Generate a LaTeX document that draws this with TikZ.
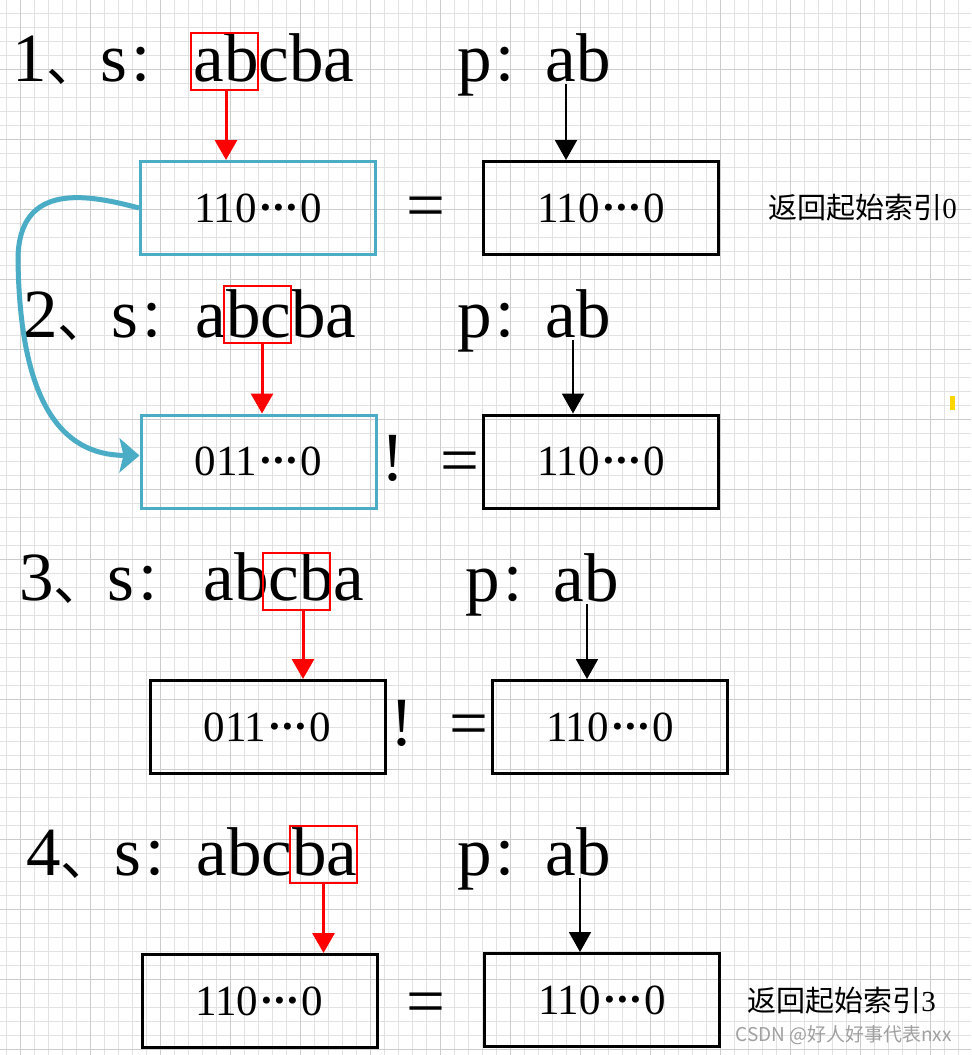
\documentclass[tikz,border=0pt]{standalone}
\usepackage{fontspec}
\setmainfont{Liberation Serif}
\newfontfamily\cjk{Noto Sans CJK SC}
\usepackage{tikz}
\usetikzlibrary{arrows.meta}
\usepackage{xcolor}
\definecolor{boxblue}{RGB}{75,172,198}
\definecolor{gridminor}{RGB}{226,226,226}
\definecolor{gridmajor}{RGB}{204,204,204}
\definecolor{marky}{RGB}{255,214,0}
\definecolor{wmgray}{RGB}{160,160,160}

\newcommand{\bigtxt}{\fontsize{34.5}{40}\selectfont}
\newcommand{\pu}[1]{{\cjk\fontsize{27}{30}\selectfont #1}}
\newcommand{\mdots}{\kern0.08em\raisebox{0.28em}{\bfseries .\kern0.05em.\kern0.05em.}\kern0.08em}

\tikzset{
  lbl/.style={inner sep=0pt, anchor=base west, font=\bigtxt},
  eqs/.style={inner sep=0pt, anchor=base, font=\bigtxt},
  hl/.style={draw=red, line width=1pt, minimum width=33.5pt, minimum height=28.5pt, inner sep=0pt},
  bitbox/.style={draw, line width=1.5pt, minimum width=117.5pt, minimum height=46.5pt, inner sep=0pt, font=\fontsize{21.5}{24}\selectfont},
  bluebox/.style={bitbox, draw=boxblue},
  redarr/.style={red, line width=1.5pt, -{Triangle[width=11pt,length=10pt]}},
  blkarr/.style={black, line width=1pt, -{Triangle[width=11pt,length=10pt]}},
  note/.style={inner sep=0pt, anchor=west, font=\fontsize{14.5}{16}\selectfont},
  wm/.style={inner sep=0pt, anchor=west, text=wmgray, font=\cjk\fontsize{9.5}{11}\selectfont},
}

\begin{document}
\begin{tikzpicture}[x=0.5pt, y=-0.5pt]
  \useasboundingbox (0,0) rectangle (971,1055);
  \fill[white] (0,0) rectangle (971,1055);
  % grid paper
  \foreach \gx in {6.3,20.3,...,971} \draw[gridminor, line width=0.5pt] (\gx,0) -- (\gx,1055);
  \foreach \gy in {13.3,27.3,...,1055} \draw[gridminor, line width=0.5pt] (0,\gy) -- (971,\gy);
  \foreach \gx in {20.3,90.3,...,971} \draw[gridmajor, line width=0.5pt] (\gx,0) -- (\gx,1055);
  \foreach \gy in {69.3,139.3,...,1055} \draw[gridmajor, line width=0.5pt] (0,\gy) -- (971,\gy);

  % step 1
  \node[lbl] (s1) at (12,81) {1\pu{、}s\pu{：}};
  \node[lbl] (w1) at (193,81) {abcba};
  \node[hl] (h1) at (224,61) {};
  \node[lbl] (p1) at (457,81) {p\pu{：}ab};
  \coordinate (t1) at (566,84);
  \node[bluebox] (b1) at (258,208) {110\mdots 0};
  \node[eqs] (eq1) at (426,228) {=};
  \node[bitbox] (r1) at (601,208) {110\mdots 0};
  \node[note] (n1) at (768,208) {\cjk 返回起始索引\rmfamily 0};
  \draw[redarr] ([xshift=1pt]h1.south) -- ([xshift=1pt]h1.south |- b1.north);
  \draw[blkarr] (t1) -- (t1 |- r1.north);

  % step 2
  \node[lbl] (s2) at (23,337) {2\pu{、}s\pu{：}};
  \node[lbl] (w2) at (195,337) {abcba};
  \node[hl] (h2) at (257.5,314) {};
  \node[lbl] (p2) at (457,337) {p\pu{：}ab};
  \coordinate (t2) at (573,340);
  \node[bluebox] (b2) at (258.5,461.5) {011\mdots 0};
  \node[eqs] (ne2) at (393,480) {!};
  \node[eqs] (eq2) at (460,483) {=};
  \node[bitbox] (r2) at (601,461.5) {110\mdots 0};
  \draw[redarr] ([xshift=2.25pt]h2.south) -- ([xshift=2.25pt]h2.south |- b2.north);
  \draw[blkarr] (t2) -- (t2 |- r2.north);

  % jump to the next window
  \draw[boxblue, line width=2.5pt, -{Stealth[width=17pt,length=10pt,inset=2pt]}]
    (b1.west) .. controls (90,195) and (18,180) .. (18,260)
    .. controls (20,400) and (60,455) .. ([yshift=3pt]b2.west);

  % step 3
  \node[lbl] (s3) at (19,600) {3\pu{、}s\pu{：}};
  \node[lbl] (w3) at (203,600) {abcba};
  \node[hl] (h3) at (296.5,581) {};
  \node[lbl] (p3) at (465,601) {p\pu{：}ab};
  \coordinate (t3) at (587,604);
  \node[bitbox] (b3) at (267.5,727) {011\mdots 0};
  \node[eqs] (ne3) at (402,745) {!};
  \node[eqs] (eq3) at (469,746) {=};
  \node[bitbox] (r3) at (610,727) {110\mdots 0};
  \draw[redarr] ([xshift=3.25pt]h3.south) -- ([xshift=3.25pt]h3.south |- b3.north);
  \draw[blkarr] (t3) -- (t3 |- r3.north);

  % step 4
  \node[lbl] (s4) at (26,875) {4\pu{、}s\pu{：}};
  \node[lbl] (w4) at (196,875) {abcba};
  \node[hl] (h4) at (323.5,854.5) {};
  \node[lbl] (p4) at (457,875) {p\pu{：}ab};
  \coordinate (t4) at (580,878);
  \node[bitbox] (b4) at (259.5,1001) {110\mdots 0};
  \node[eqs] (eq4) at (426,1024) {=};
  \node[bitbox] (r4) at (602,1000) {110\mdots 0};
  \node[note] (n4) at (747,1001) {\cjk 返回起始索引\rmfamily 3};
  \draw[redarr] (h4.south) -- (h4.south |- b4.north);
  \draw[blkarr] (t4) -- (t4 |- r4.north);

  \node[wm] (wm) at (735,1035) {CSDN @好人好事代表nxx};
  \fill[marky] (950,396) rectangle (955,410);
\end{tikzpicture}
\end{document}
